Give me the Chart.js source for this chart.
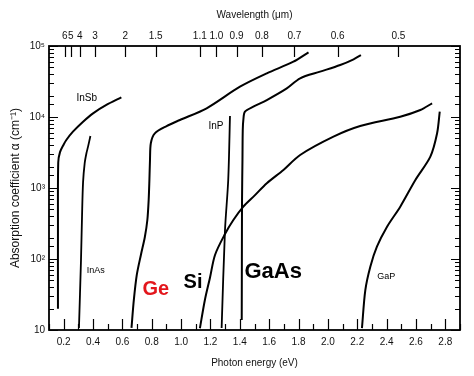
<!DOCTYPE html>
<html lang="en">
<head>
<meta charset="UTF-8">
<title>Absorption coefficient vs photon energy</title>
<script src="https://cdn.jsdelivr.net/npm/chart.js"></script>
<style>
    html, body { margin: 0; padding: 0; background: #fff; }
    .chart-container { position: relative; width: 474px; height: 376px; }
</style>
</head>
<body>
<div class="chart-container"><canvas id="absorptionChart"></canvas></div>
<script>
    // photon energy (eV) and absorption coefficient (cm^-1)
    const insbEnergy = [0.161, 0.161, 0.163, 0.175, 0.2, 0.218, 0.263, 0.332, 0.40, 0.491, 0.593];
    const insbAlpha  = [20, 300, 2300, 3200, 4100, 4745, 6210, 8590, 11270, 14760, 18930];

    const inasEnergy = [0.304, 0.318, 0.325, 0.332, 0.343, 0.355, 0.366, 0.382];
    const inasAlpha  = [10.7, 97, 400, 1200, 2228, 3083, 3820, 5395];

    const geEnergy = [0.662, 0.678, 0.698, 0.726, 0.753, 0.770, 0.779, 0.784, 0.788, 0.794, 0.821, 0.901, 0.992, 1.174, 1.401, 1.584, 1.765, 1.868];
    const geAlpha  = [10.7, 26.5, 59.6, 114, 204, 354, 678, 1297, 2483, 4300, 5890, 7460, 9080, 13280, 26700, 41200, 60100, 81500];

    const siEnergy = [1.128, 1.162, 1.197, 1.231, 1.299, 1.356, 1.424, 1.50, 1.584, 1.697, 1.811, 2.038, 2.220, 2.493, 2.630, 2.710];
    const siAlpha  = [10.6, 26.5, 55, 114, 225, 354, 546, 780, 1165, 1795, 2920, 5290, 7460, 10100, 12550, 15600];

    const inpEnergy = [1.276, 1.299, 1.321, 1.333];
    const inpAlpha  = [10.7, 256, 1297, 10330];

    const gaasEnergy = [1.413, 1.414, 1.415, 1.418, 1.42, 1.424, 1.435, 1.492, 1.584, 1.720, 1.811, 1.947, 2.084, 2.175, 2.225];
    const gaasAlpha  = [13.8, 100, 678, 2500, 6560, 9080, 11900, 13960, 17350, 25300, 35100, 43500, 54000, 65000, 74600];

    const gapEnergy = [2.232, 2.255, 2.289, 2.334, 2.403, 2.493, 2.596, 2.698, 2.744, 2.762];
    const gapAlpha  = [10.6, 36.5, 78, 149, 285, 546, 1297, 2760, 5890, 11900];

    // top axis: wavelength (um) = 1.24 / E (eV)
    const wavelengthTicks  = [6, 5, 4, 3, 2, 1.5, 1.1, 1.0, 0.9, 0.8, 0.7, 0.6, 0.5];
    const wavelengthLabels = ['6', '5', '4', '3', '2', '1.5', '1.1', '1.0', '0.9', '0.8', '0.7', '0.6', '0.5'];
    const alphaDecades      = [10, 100, 1000, 10000, 100000];
    const alphaDecadeLabels = ['10', '10²', '10³', '10⁴', '10⁵'];
    const HC = 1.24;

    // curve names, placed in data units
    const curveNotes = [
        { text: 'InSb', e: 0.357, a: 18500, font: '10px "Liberation Sans Narrow", "Liberation Sans", Arial', color: '#000' },
        { text: 'InAs', e: 0.418, a: 68,    font: '9px "Liberation Sans Narrow", "Liberation Sans", Arial',  color: '#000' },
        { text: 'InP',  e: 1.237, a: 7460,  font: '10px "Liberation Sans Narrow", "Liberation Sans", Arial', color: '#000' },
        { text: 'GaP',  e: 2.398, a: 56,    font: '9px "Liberation Sans Narrow", "Liberation Sans", Arial',  color: '#000' },
        { text: 'Ge',   e: 0.828, a: 37,    font: 'bold 20px "Liberation Sans", Arial', color: '#e3161c' },
        { text: 'Si',   e: 1.081, a: 46,    font: 'bold 20px "Liberation Sans", Arial', color: '#000' },
        { text: 'GaAs', e: 1.627, a: 66,    font: 'bold 22px "Liberation Sans", Arial', color: '#000' }
    ];

    const points = (xs, ys) => xs.map((x, i) => ({ x: x, y: ys[i] }));
    const curve = (name, xs, ys, w) => ({
        label: name,
        data: points(xs, ys),
        borderColor: '#000',
        borderWidth: w || 2,
        pointRadius: 0,
        tension: 0.3,
        fill: false
    });

    const isDecade = v => alphaDecades.some(d => Math.abs(v - d) < d * 1e-6);

    // inward tick marks and frame, like the printed figure
    const frameTicks = {
        id: 'frameTicks',
        afterDraw(chart) {
            const { ctx, chartArea: a, scales: { x, x2, y } } = chart;
            ctx.save();
            ctx.strokeStyle = '#000';
            ctx.lineWidth = 1.2;
            ctx.beginPath();
            x.ticks.forEach(t => {
                const px = Math.round(x.getPixelForValue(t.value)) + 0.5;
                const len = Math.round(t.value * 10) % 2 === 0 ? 11 : 6;
                ctx.moveTo(px, a.bottom);
                ctx.lineTo(px, a.bottom - len);
            });
            x2.ticks.forEach(t => {
                const px = Math.round(x2.getPixelForValue(t.value)) + 0.5;
                ctx.moveTo(px, a.top);
                ctx.lineTo(px, a.top + 11);
            });
            y.ticks.forEach(t => {
                const py = Math.round(y.getPixelForValue(t.value)) + 0.5;
                const len = isDecade(t.value) ? 9 : 5;
                ctx.moveTo(a.left, py);
                ctx.lineTo(a.left + len, py);
                ctx.moveTo(a.right, py);
                ctx.lineTo(a.right - len, py);
            });
            ctx.stroke();
            ctx.lineWidth = 1.8;
            ctx.strokeRect(a.left, a.top, a.right - a.left, a.bottom - a.top);
            ctx.restore();
        }
    };

    const curveLabels = {
        id: 'curveLabels',
        afterDatasetsDraw(chart) {
            const { ctx, scales: { x, y } } = chart;
            ctx.save();
            ctx.textAlign = 'center';
            ctx.textBaseline = 'middle';
            curveNotes.forEach(n => {
                ctx.font = n.font;
                ctx.fillStyle = n.color;
                ctx.fillText(n.text, x.getPixelForValue(n.e), y.getPixelForValue(n.a));
            });
            ctx.restore();
        }
    };

    const tickFont = { family: '"Liberation Sans Narrow", "Liberation Sans", Arial', size: 10 };

    new Chart(document.getElementById('absorptionChart'), {
        type: 'line',
        data: {
            datasets: [
                curve('InSb', insbEnergy, insbAlpha),
                curve('InAs', inasEnergy, inasAlpha, 1.8),
                curve('Ge', geEnergy, geAlpha),
                curve('Si', siEnergy, siAlpha),
                curve('InP', inpEnergy, inpAlpha, 1.8),
                curve('GaAs', gaasEnergy, gaasAlpha),
                curve('GaP', gapEnergy, gapAlpha)
            ]
        },
        options: {
            responsive: true,
            maintainAspectRatio: false,
            animation: false,
            layout: { padding: { right: 14 } },
            plugins: {
                legend: { display: false },
                tooltip: { enabled: false }
            },
            scales: {
                x: {
                    type: 'linear',
                    position: 'bottom',
                    min: 0.1,
                    max: 2.9,
                    afterFit: s => { s.height = 46; },
                    grid: { display: false, drawTicks: false },
                    border: { display: false },
                    ticks: {
                        stepSize: 0.1,
                        maxTicksLimit: 40,
                        autoSkip: false,
                        maxRotation: 0,
                        padding: 6,
                        color: '#111',
                        font: tickFont,
                        callback: v => (Math.round(v * 10) % 2 === 0 ? v.toFixed(1) : '')
                    },
                    title: {
                        display: true,
                        text: 'Photon energy (eV)',
                        color: '#111',
                        font: tickFont,
                        padding: { top: 0, bottom: 7 }
                    }
                },
                x2: {
                    type: 'linear',
                    position: 'top',
                    min: 0.1,
                    max: 2.9,
                    afterBuildTicks: s => { s.ticks = wavelengthTicks.map(w => ({ value: HC / w })); },
                    afterFit: s => { s.height = 46; },
                    grid: { display: false, drawTicks: false },
                    border: { display: false },
                    ticks: {
                        autoSkip: false,
                        maxRotation: 0,
                        padding: 4,
                        color: '#111',
                        font: tickFont,
                        callback: (v, i) => wavelengthLabels[i]
                    },
                    title: {
                        display: true,
                        text: 'Wavelength (μm)',
                        color: '#111',
                        font: tickFont,
                        padding: { top: 9, bottom: 0 }
                    }
                },
                y: {
                    type: 'logarithmic',
                    min: 10,
                    max: 100000,
                    afterFit: s => { s.width = 49; },
                    grid: { display: false, drawTicks: false },
                    border: { display: false },
                    ticks: {
                        autoSkip: false,
                        padding: 4,
                        color: '#111',
                        font: tickFont,
                        callback: v => {
                            const i = alphaDecades.findIndex(d => Math.abs(v - d) < d * 1e-6);
                            return i >= 0 ? alphaDecadeLabels[i] : '';
                        }
                    },
                    title: {
                        display: true,
                        text: 'Absorption coefficient α (cm⁻¹)',
                        color: '#111',
                        font: { family: '"Liberation Sans Narrow", "Liberation Sans", Arial', size: 12 },
                        padding: { top: 8, bottom: 0 }
                    }
                }
            }
        },
        plugins: [frameTicks, curveLabels]
    });
</script>
</body>
</html>
